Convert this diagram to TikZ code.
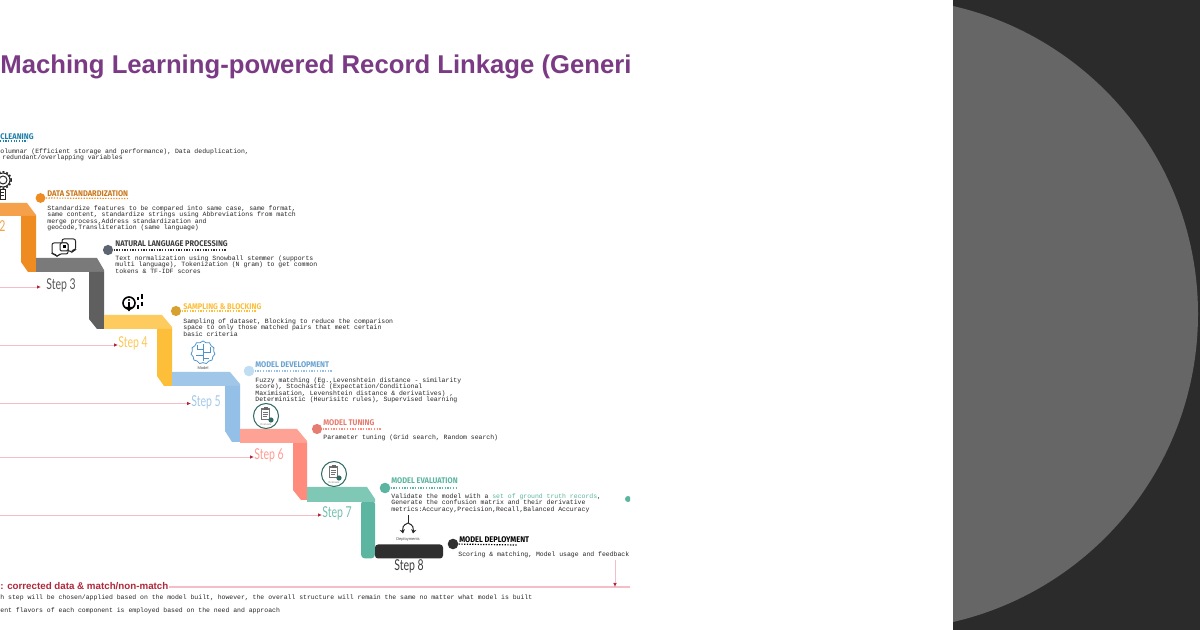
\documentclass[tikz,border=0pt]{standalone}
\usepackage{fontspec}
\usetikzlibrary{arrows.meta,shapes.symbols}
\setmainfont{Liberation Sans}
\newfontfamily\bodyfont{Liberation Mono}
\newfontfamily\headfont[FakeStretch=0.907]{Fira Sans}
\newfontfamily\stepfont[FakeStretch=0.7]{Lato}
\definecolor{panel}{HTML}{2B2B2B}
\definecolor{disc}{HTML}{666666}
\definecolor{titlepurple}{HTML}{7B3B84}
\definecolor{alertred}{HTML}{B0283C}
\definecolor{rulepink}{HTML}{F5BEC6}
\definecolor{orangeA}{HTML}{F5A04A}
\definecolor{orangeB}{HTML}{EE8C22}
\definecolor{grayA}{HTML}{7A7A7A}
\definecolor{grayB}{HTML}{5F5F5F}
\definecolor{yellowA}{HTML}{FDCB5E}
\definecolor{yellowB}{HTML}{FDBE3A}
\definecolor{blueA}{HTML}{A0C7E8}
\definecolor{blueB}{HTML}{94BFE6}
\definecolor{salmonA}{HTML}{FFA296}
\definecolor{salmonB}{HTML}{FF8B7C}
\definecolor{tealA}{HTML}{7FC8B5}
\definecolor{tealB}{HTML}{5BB5A0}
\definecolor{inkdark}{HTML}{2F2F2F}
\definecolor{cleanblue}{HTML}{1F7FA8}
\definecolor{slate}{HTML}{5D6670}
\definecolor{paleblue}{HTML}{BFDDF3}
\definecolor{brainblue}{HTML}{4F93C8}
\definecolor{ringteal}{HTML}{2F6B63}
\tikzset{
  bodytext/.style={anchor=north west,inner sep=0pt,align=left,text=black!85,font=\bodyfont\fontsize{3.235}{3.25}\selectfont},
  headtext/.style={anchor=base west,inner sep=0pt,font=\headfont\bfseries\fontsize{4.1}{5}\selectfont},
  steptext/.style={anchor=west,inner sep=0pt,font=\stepfont\fontsize{7.5}{8}\selectfont},
  smalltext/.style={inner sep=0pt,text=black!70,font=\fontsize{2}{2.4}\selectfont},
  stepdot/.style={circle,inner sep=0pt,minimum size=#1},
  headrule/.style={line width=0.6pt,dash pattern=on 0.65pt off 0.7pt},
  feedline/.style={alertred,line width=0.45pt,-{Latex[length=2pt,width=1.8pt]},postaction={draw=rulepink,-,shorten >=2pt}},
  iconline/.style={line width=0.5pt,black!85},
  ringnode/.style={circle,draw=ringteal,line width=0.5pt,fill=white,minimum size=12.5pt,inner sep=0pt}
}
\begin{document}
\begin{tikzpicture}[x=0.5pt,y=-0.5pt]
  \useasboundingbox (0,0) rectangle (1200,630);
  \fill[panel] (0,0) rectangle (1200,630);
  \fill[disc] (882,314) circle (316);
  \fill[white] (0,0) rectangle (953,630);

  \begin{scope}
  \clip (0,0) rectangle (630,630);
  \node[anchor=base west,inner sep=0pt,text=titlepurple,font=\bfseries\fontsize{12.85}{15}\selectfont] (title) at (0,74) {Maching Learning-powered Record Linkage (Generi};

  % stair
  \fill[orangeA] (0,203) -- (27,203) -- (36,215) -- (36,216) -- (0,216) -- cycle;
  \fill[orangeB] (21,216) -- (36,216) -- (36,272) -- (28,272) -- (21,262) -- cycle;
  \fill[grayA] (36,258) -- (97,258) -- (104,270) -- (104,272) -- (36,272) -- cycle;
  \fill[grayB] (89,272) -- (104,272) -- (104,329) -- (97,329) -- (89,319) -- cycle;
  \fill[yellowA] (104,315) -- (162,315) -- (172,327) -- (172,329) -- (104,329) -- cycle;
  \fill[yellowB] (157,329) -- (172,329) -- (172,386) -- (164,386) -- (157,376) -- cycle;
  \fill[blueA] (172,372) -- (230,372) -- (240,384) -- (240,386) -- (172,386) -- cycle;
  \fill[blueB] (225,386) -- (240,386) -- (240,442) -- (232,442) -- (225,431) -- cycle;
  \fill[salmonA] (240,429) -- (297,429) -- (307,441) -- (307,443) -- (240,443) -- cycle;
  \fill[salmonB] (293,443) -- (307,443) -- (307,500) -- (301,500) -- (293,490) -- cycle;
  \fill[tealB,rounded corners=2] (361,500) rectangle (375,558.5);
  \fill[tealA] (307,487) -- (367,487) -- (375,499) -- (375,502) -- (307,502) -- cycle;
  \fill[inkdark,rounded corners=1.5] (375,544.5) rectangle (443,558.5);

  % step labels
  \node[steptext,text=orangeB!80] (step2) at (-1,226) {2};
  \node[steptext,text=black!65] (step3) at (46,285) {Step 3};
  \node[steptext,text=yellowB!85] (step4) at (118,343) {Step 4};
  \node[steptext,text=blueB!85] (step5) at (191,402) {Step 5};
  \node[steptext,text=salmonB!85] (step6) at (254,455) {Step 6};
  \node[steptext,text=tealB!85] (step7) at (322,513) {Step 7};
  \node[steptext,text=black!75] (step8) at (394,566) {Step 8};

  \coordinate (from3) at (0,287);
  \coordinate (to3) at (41,287);
  \coordinate (from4) at (0,345);
  \coordinate (to4) at (118,345);
  \coordinate (from5) at (0,403.5);
  \coordinate (to5) at (191,403.5);
  \coordinate (from6) at (0,457);
  \coordinate (to6) at (254,457);
  \coordinate (from7) at (0,515);
  \coordinate (to7) at (322,515);
  \draw[feedline] (from3) -- (to3);
  \draw[feedline] (from4) -- (to4);
  \draw[feedline] (from5) -- (to5);
  \draw[feedline] (from6) -- (to6);
  \draw[feedline] (from7) -- (to7);

  % headings
  \node[headtext,text=cleanblue] (headclean) at (0,139.5) {CLEANING};
  \node[stepdot=4.9pt,fill=orangeB] (dotstd) at (40.5,198) {};
  \node[headtext,text=orangeB!85!black] (headstd) at (47,196.5) {DATA STANDARDIZATION};
  \node[stepdot=5.1pt,fill=slate] (dotnlp) at (108,250) {};
  \node[headtext,text=black!75] (headnlp) at (115,246.5) {NATURAL LANGUAGE PROCESSING};
  \node[stepdot=5.1pt,fill=yellowB!85!black] (dotsamp) at (176,311) {};
  \node[headtext,text=yellowB] (headsamp) at (183,309.5) {SAMPLING \& BLOCKING};
  \node[stepdot=5.3pt,fill=paleblue] (dotdev) at (249,371) {};
  \node[headtext,text=brainblue!85] (headdev) at (255,368) {MODEL DEVELOPMENT};
  \node[stepdot=5.1pt,fill=salmonB!90!black] (dottune) at (317,429) {};
  \node[headtext,text=salmonB!90!black] (headtune) at (323,425.5) {MODEL TUNING};
  \node[stepdot=5.3pt,fill=tealB] (doteval) at (385,488) {};
  \node[headtext,text=tealB] (headeval) at (391,484) {MODEL EVALUATION};
  \node[stepdot=5.3pt,fill=inkdark] (dotdep) at (453,544) {};
  \node[headtext,text=black] (headdep) at (459,542.5) {MODEL DEPLOYMENT};
  \node[stepdot=3pt,fill=tealB] (dotedge) at (628,499) {};

  \coordinate (ruleclean0) at (0,141);
  \coordinate (ruleclean1) at (27,141);
  \coordinate (rulestd) at (128,198.5);
  \coordinate (rulenlp) at (226,250);
  \coordinate (rulesamp) at (257,311);
  \coordinate (ruledev) at (332,371);
  \coordinate (ruletune) at (381,429);
  \coordinate (ruleeval) at (456,488);
  \coordinate (ruledep) at (517,545);
  \draw[headrule,cleanblue] (ruleclean0) -- (ruleclean1);
  \draw[headrule,orangeB] (dotstd) -- (rulestd);
  \draw[headrule,black!80] (dotnlp) -- (rulenlp);
  \draw[headrule,yellowB] (dotsamp) -- (rulesamp);
  \draw[headrule,blueB] (dotdev) -- (ruledev);
  \draw[headrule,salmonB] (dottune) -- (ruletune);
  \draw[headrule,tealB] (doteval) -- (ruleeval);
  \draw[headrule,black] (dotdep) -- (ruledep);

  % descriptions
  \node[bodytext] (textclean) at (0,148) {olumnar (Efficient storage and performance), Data deduplication,\\\hspace*{1pt}redundant/overlapping variables};
  \node[bodytext] (textstd) at (47,205) {Standardize features to be compared into same case, same format,\\same content, standardize strings using Abbreviations from match\\merge process,Address standardization and\\geocode,Transliteration (same language)};
  \node[bodytext] (textnlp) at (115,255) {Text normalization using Snowball stemmer (supports\\multi language), Tokenization (N gram) to get common\\tokens \& TF-IDF scores};
  \node[bodytext] (textsamp) at (183,318) {Sampling of dataset, Blocking to reduce the comparison\\space to only those matched pairs that meet certain\\basic criteria};
  \node[bodytext] (textdev) at (255,377) {Fuzzy matching (Eg.,Levenshtein distance - similarity\\score), Stochastic (Expectation/Conditional\\Maximisation, Levenshtein distance \& derivatives) ,\\Deterministic (Heurisitc rules), Supervised learning};
  \node[bodytext] (texttune) at (323,434.5) {Parameter tuning (Grid search, Random search)};
  \node[bodytext] (texteval) at (391,493) {Validate the model with a \textcolor{tealB}{set of ground truth records},\\Generate the confusion matrix and their derivative\\metrics:Accuracy,Precision,Recall,Balanced Accuracy};
  \node[bodytext] (textdep) at (458,551) {Scoring \& matching, Model usage and feedback};

  % icons
  \draw[iconline] (3,180) circle (4);
  \draw[iconline] (3,180) circle (7);
  \draw[line width=0.8pt,black!85,dash pattern=on 0.9pt off 1pt] (3,180) circle (8.2);
  \draw[iconline] (0,190) rectangle (5,200);
  \draw[iconline] (0,193) -- (4,193) (0,196) -- (4,196);

  \draw[iconline,rounded corners=1,fill=white] (62,239) -- (75.5,239) -- (75.5,250) -- (73,250) -- (72,253) -- (69,250) -- (62,250) -- cycle;
  \draw[iconline,rounded corners=1,fill=white] (52,243) -- (68,243) -- (68,254) -- (59,254) -- (57,257) -- (55,254) -- (52,254) -- cycle;
  \draw[iconline,rounded corners=0.7,fill=white] (60,243) rectangle (68,251);
  \fill[black] (62.5,245.5) rectangle (65.5,248.5);

  \draw[black,line width=0.8pt,fill=white] (129,303) circle (6);
  \fill[black] (129,311.5) -- (125.5,307) -- (132.5,307) -- cycle;
  \fill[black] (129,300) circle (1.2);
  \fill[black] (127.8,302) rectangle (130.2,307);
  \draw[black,line width=0.8pt] (138,297) -- (138,300) (142,294) -- (142,299) (142,302) -- (142,306) (138,305) -- (138,309);

  \node[cloud,cloud puffs=11,cloud puff arc=120,aspect=1,draw=brainblue,line width=0.4pt,minimum width=12pt,minimum height=11.5pt,inner sep=0pt] (brain) at (203,352.5) {};
  \draw[brainblue,line width=0.35pt] (203,344) -- (203,361) (203,349) -- (197,349) -- (197,345) (203,355) -- (196,355) (203,352) -- (210,352) -- (210,347) (203,358) -- (209,358);
  \node[smalltext] (labelmodel) at (203,368) {Model};

  \node[ringnode] (ringtune) at (266,416) {};
  \node[ringnode] (ringeval) at (334,474) {};
  \fill[black!55] (261,408) rectangle (270,420);
  \fill[white] (262.3,410) rectangle (268.7,418.7);
  \fill[black!60] (263.5,407) rectangle (267.5,410);
  \draw[black!55,line width=0.3pt] (263,412) -- (268,412) (263,414) -- (268,414) (263,416) -- (267,416);
  \fill[ringteal] (271,420) circle (2.6);
  \fill[black!55] (329,466) rectangle (338,478);
  \fill[white] (330.3,468) rectangle (336.7,476.7);
  \fill[black!60] (331.5,465) rectangle (335.5,468);
  \draw[black!55,line width=0.3pt] (331,470) -- (336,470) (331,472) -- (336,472) (331,474) -- (335,474);
  \fill[ringteal] (339,478) circle (2.6);
  \node[smalltext,text=black!45,font=\fontsize{1.4}{1.6}\selectfont] (labeltune) at (266,424.5) {Evaluate};
  \node[smalltext,text=black!45,font=\fontsize{1.4}{1.6}\selectfont] (labeleval) at (334,482.5) {Evaluate};

  \coordinate (deptop) at (408,515);
  \coordinate (depfork) at (408,523);
  \coordinate (depleft) at (403,533.5);
  \coordinate (depright) at (413,533.5);
  \draw[iconline] (deptop) -- (depfork);
  \draw[iconline,-{Stealth[length=2pt,width=2.6pt]}] (depfork) .. controls (403,525) and (402,528) .. (depleft);
  \draw[iconline,-{Stealth[length=2pt,width=2.6pt]}] (depfork) .. controls (413,525) and (414,528) .. (depright);
  \node[smalltext] (labeldep) at (408,539) {Deployments};

  % bottom
  \node[anchor=base west,inner sep=0pt,text=alertred,font=\bfseries\fontsize{4.88}{6}\selectfont] (output) at (0,589) {: corrected data \& match/non-match};
  \coordinate (ruleend) at (630,587);
  \coordinate (feedtop) at (615,560);
  \coordinate (feedbot) at (615,587);
  \draw[rulepink,line width=0.75pt] (output.east |- ruleend) -- (ruleend);
  \draw[feedline] (feedtop) -- (feedbot);
  \node[bodytext] (note1) at (0,594.5) {h step will be chosen/applied based on the model built, however, the overall structure will remain the same no matter what model is built};
  \node[bodytext] (note2) at (0,607.5) {ent flavors of each component is employed based on the need and approach};
  \end{scope}
\end{tikzpicture}
\end{document}
